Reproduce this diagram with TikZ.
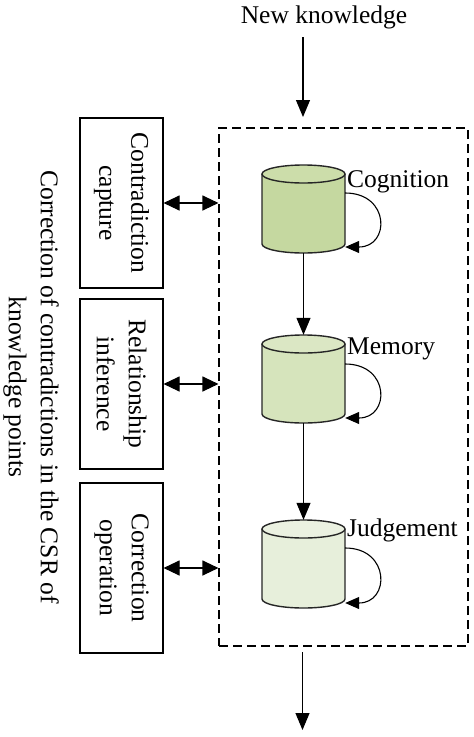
\documentclass[tikz,border=0pt]{standalone}
\usepackage{fontspec}
\setmainfont{Liberation Serif}
\usetikzlibrary{arrows.meta,calc}
\definecolor{cogfill}{HTML}{C5D8A0}
\definecolor{cogtop}{HTML}{CCDDAA}
\definecolor{memfill}{HTML}{D6E4BC}
\definecolor{memtop}{HTML}{DBE7C4}
\definecolor{judfill}{HTML}{E7EFDB}
\definecolor{judtop}{HTML}{EBF1E1}
\newcommand\mycylinder[5]{% name, cx, top ellipse centre y (down), body fill, top fill
  \fill[#4] (#2-41.5,-#3) -- (#2-41.5,-#3-70) arc[start angle=180,end angle=360,x radius=41.5,y radius=9] -- (#2+41.5,-#3) -- cycle;
  \draw[cylline] (#2-41.5,-#3) -- (#2-41.5,-#3-70) arc[start angle=180,end angle=360,x radius=41.5,y radius=9] -- (#2+41.5,-#3);
  \draw[cylline,fill=#5] (#2,-#3) ellipse[x radius=41.5,y radius=9];
  \node[inner sep=0pt,minimum width=83pt,minimum height=88pt] (#1) at (#2,-#3-35) {};
}
\begin{document}
\begin{tikzpicture}[x=1pt,y=1pt,
  txt/.style={font=\fontsize{25.5}{32}\selectfont,inner sep=0pt},
  box/.style={draw,line width=1.1pt,minimum width=83pt,minimum height=170pt,inner sep=0pt},
  cylline/.style={line width=1.4pt,draw=black!85},
  arr/.style={line width=1.1pt,-{Triangle[length=17pt,width=14pt]}},
  loop/.style={line width=1.1pt,-{Triangle[length=14pt,width=12pt]}},
  dbl/.style={line width=1.1pt,{Triangle[length=16pt,width=15pt]}-{Triangle[length=16pt,width=15pt]}},
  dbox/.style={draw,line width=1.1pt,dash pattern=on 9pt off 5pt,minimum width=249pt,minimum height=518pt,inner sep=0pt}
]
\useasboundingbox (0,0) rectangle (474,-737);
\fill[white] (0,0) rectangle (474,-737);

% title
\node[txt,anchor=base] (nk) at (324,-23) {New knowledge};
\coordinate (in1) at (303,-37);
\coordinate (in2) at (303,-117);
\draw[arr] (in1) -- (in2);

% dashed frame
\node[dbox] (frame) at (343.5,-387) {};

% cylinders
\mycylinder{cog}{303.5}{174}{cogfill}{cogtop}
\mycylinder{mem}{303.5}{344}{memfill}{memtop}
\mycylinder{jud}{303.5}{529}{judfill}{judtop}

\node[txt,anchor=base west] (lcog) at (347,-187) {Cognition};
\node[txt,anchor=base west] (lmem) at (347,-354) {Memory};
\node[txt,anchor=base west] (ljud) at (347,-536) {Judgement};

\draw[arr] (cog.south) -- (mem.north);
\draw[arr] (mem.south) -- (jud.north);

% self loops
\draw[loop] ([yshift=16pt]cog.east) .. controls +(45,0) and +(45,0) .. ([yshift=-38pt]cog.east);
\draw[loop] ([yshift=15pt]mem.east) .. controls +(45,0) and +(45,0) .. ([yshift=-39pt]mem.east);
\draw[loop] ([yshift=16pt]jud.east) .. controls +(45,0) and +(45,0) .. ([yshift=-39pt]jud.east);

% output arrow
\coordinate (out1) at (302.5,-652);
\coordinate (out2) at (302.5,-730);
\draw[arr] (out1) -- (out2);

% left boxes
\node[box] (b1) at (121.5,-203) {};
\node[box] (b2) at (121.5,-384) {};
\node[box] (b3) at (121.5,-568) {};
\node[txt,rotate=-90,align=center] (t1) at (b1) {Contradiction\\capture};
\node[txt,rotate=-90,align=center] (t2) at (b2) {Relationship\\inference};
\node[txt,rotate=-90,align=center] (t3) at (b3) {Correction\\operation};

\draw[dbl] (b1.east) -- (b1.east -| frame.west);
\draw[dbl] (b2.east) -- (b2.east -| frame.west);
\draw[dbl] (b3.east) -- (b3.east -| frame.west);

% side caption
\node[txt,rotate=-90,align=center] (side) at (31,-387) {Correction of contradictions in the CSR of\\knowledge points};
\end{tikzpicture}
\end{document}
